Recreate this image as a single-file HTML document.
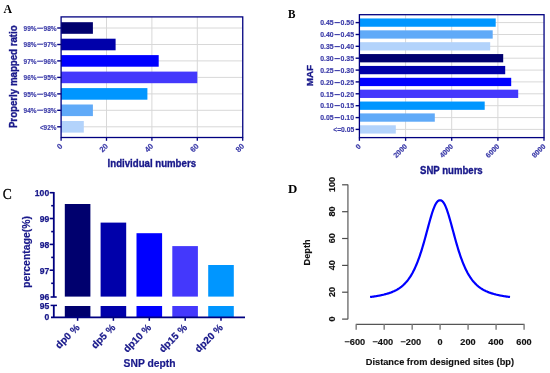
<!DOCTYPE html><html><head><meta charset="utf-8"><style>html,body{margin:0;padding:0;background:#fff;width:550px;height:373px;overflow:hidden}svg{display:block}svg{will-change:transform}text{font-family:"Liberation Sans",sans-serif}.s{font-family:"Liberation Serif",serif;font-weight:bold}</style></head><body>
<svg width="550" height="373" viewBox="0 0 550 373">
<text class="s" transform="translate(3.4,12.9) scale(0.97,1)" font-size="12.2" fill="#000">A</text>
<line x1="106.5" y1="16.9" x2="106.5" y2="137.5" stroke="#d8d8d8" stroke-width="1"/>
<line x1="151.9" y1="16.9" x2="151.9" y2="137.5" stroke="#d8d8d8" stroke-width="1"/>
<line x1="197.3" y1="16.9" x2="197.3" y2="137.5" stroke="#d8d8d8" stroke-width="1"/>
<line x1="61.1" y1="28.0" x2="242.75" y2="28.0" stroke="#d8d8d8" stroke-width="1"/>
<line x1="61.1" y1="44.5" x2="242.75" y2="44.5" stroke="#d8d8d8" stroke-width="1"/>
<line x1="61.1" y1="60.9" x2="242.75" y2="60.9" stroke="#d8d8d8" stroke-width="1"/>
<line x1="61.1" y1="77.4" x2="242.75" y2="77.4" stroke="#d8d8d8" stroke-width="1"/>
<line x1="61.1" y1="93.9" x2="242.75" y2="93.9" stroke="#d8d8d8" stroke-width="1"/>
<line x1="61.1" y1="110.3" x2="242.75" y2="110.3" stroke="#d8d8d8" stroke-width="1"/>
<line x1="61.1" y1="126.8" x2="242.75" y2="126.8" stroke="#d8d8d8" stroke-width="1"/>
<rect x="61.1" y="22.2" width="31.8" height="11.6" fill="#00006e"/>
<line x1="57.2" y1="28.0" x2="61.1" y2="28.0" stroke="#000080" stroke-width="1.4"/>
<text x="23.6" y="31" font-size="7.8" font-weight="bold" fill="#3a3aa8" stroke="#3a3aa8" stroke-width="0.15" textLength="12.9" lengthAdjust="spacingAndGlyphs">99%</text>
<rect x="37.1" y="27.65" width="6.0" height="1.1" fill="#3a3aa8"/>
<text x="56.6" y="31" font-size="7.8" font-weight="bold" fill="#3a3aa8" stroke="#3a3aa8" stroke-width="0.15" text-anchor="end" textLength="13.1" lengthAdjust="spacingAndGlyphs">98%</text>
<rect x="61.1" y="38.7" width="54.5" height="11.6" fill="#0000aa"/>
<line x1="57.2" y1="44.5" x2="61.1" y2="44.5" stroke="#000080" stroke-width="1.4"/>
<text x="23.6" y="47" font-size="7.8" font-weight="bold" fill="#3a3aa8" stroke="#3a3aa8" stroke-width="0.15" textLength="12.9" lengthAdjust="spacingAndGlyphs">98%</text>
<rect x="37.1" y="43.65" width="6.0" height="1.1" fill="#3a3aa8"/>
<text x="56.6" y="47" font-size="7.8" font-weight="bold" fill="#3a3aa8" stroke="#3a3aa8" stroke-width="0.15" text-anchor="end" textLength="13.1" lengthAdjust="spacingAndGlyphs">97%</text>
<rect x="61.1" y="55.1" width="97.6" height="11.6" fill="#0000ff"/>
<line x1="57.2" y1="60.9" x2="61.1" y2="60.9" stroke="#000080" stroke-width="1.4"/>
<text x="23.6" y="64" font-size="7.8" font-weight="bold" fill="#3a3aa8" stroke="#3a3aa8" stroke-width="0.15" textLength="12.9" lengthAdjust="spacingAndGlyphs">97%</text>
<rect x="37.1" y="60.65" width="6.0" height="1.1" fill="#3a3aa8"/>
<text x="56.6" y="64" font-size="7.8" font-weight="bold" fill="#3a3aa8" stroke="#3a3aa8" stroke-width="0.15" text-anchor="end" textLength="13.1" lengthAdjust="spacingAndGlyphs">96%</text>
<rect x="61.1" y="71.6" width="136.2" height="11.6" fill="#4438fc"/>
<line x1="57.2" y1="77.4" x2="61.1" y2="77.4" stroke="#000080" stroke-width="1.4"/>
<text x="23.6" y="80" font-size="7.8" font-weight="bold" fill="#3a3aa8" stroke="#3a3aa8" stroke-width="0.15" textLength="12.9" lengthAdjust="spacingAndGlyphs">96%</text>
<rect x="37.1" y="76.65" width="6.0" height="1.1" fill="#3a3aa8"/>
<text x="56.6" y="80" font-size="7.8" font-weight="bold" fill="#3a3aa8" stroke="#3a3aa8" stroke-width="0.15" text-anchor="end" textLength="13.1" lengthAdjust="spacingAndGlyphs">95%</text>
<rect x="61.1" y="88.1" width="86.3" height="11.6" fill="#0096ff"/>
<line x1="57.2" y1="93.9" x2="61.1" y2="93.9" stroke="#000080" stroke-width="1.4"/>
<text x="23.6" y="97" font-size="7.8" font-weight="bold" fill="#3a3aa8" stroke="#3a3aa8" stroke-width="0.15" textLength="12.9" lengthAdjust="spacingAndGlyphs">95%</text>
<rect x="37.1" y="93.65" width="6.0" height="1.1" fill="#3a3aa8"/>
<text x="56.6" y="97" font-size="7.8" font-weight="bold" fill="#3a3aa8" stroke="#3a3aa8" stroke-width="0.15" text-anchor="end" textLength="13.1" lengthAdjust="spacingAndGlyphs">94%</text>
<rect x="61.1" y="104.5" width="31.8" height="11.6" fill="#60aaf8"/>
<line x1="57.2" y1="110.3" x2="61.1" y2="110.3" stroke="#000080" stroke-width="1.4"/>
<text x="23.6" y="113" font-size="7.8" font-weight="bold" fill="#3a3aa8" stroke="#3a3aa8" stroke-width="0.15" textLength="12.9" lengthAdjust="spacingAndGlyphs">94%</text>
<rect x="37.1" y="109.65" width="6.0" height="1.1" fill="#3a3aa8"/>
<text x="56.6" y="113" font-size="7.8" font-weight="bold" fill="#3a3aa8" stroke="#3a3aa8" stroke-width="0.15" text-anchor="end" textLength="13.1" lengthAdjust="spacingAndGlyphs">93%</text>
<rect x="61.1" y="121.0" width="22.7" height="11.6" fill="#b3d3fb"/>
<line x1="57.2" y1="126.8" x2="61.1" y2="126.8" stroke="#000080" stroke-width="1.4"/>
<text x="56.4" y="129.6" font-size="7.8" font-weight="bold" fill="#3a3aa8" stroke="#3a3aa8" stroke-width="0.15" text-anchor="end" textLength="16.5" lengthAdjust="spacingAndGlyphs">&lt;92%</text>
<rect x="61.1" y="16.9" width="181.65" height="120.60" fill="none" stroke="#000080" stroke-width="1.3"/>
<line x1="61.1" y1="137.5" x2="61.1" y2="140.8" stroke="#000080" stroke-width="1.3"/>
<text transform="translate(63.1,146.7) rotate(-45)" font-size="7.7" font-weight="bold" fill="#3a3aa8" stroke="#3a3aa8" stroke-width="0.15" text-anchor="end">0</text>
<line x1="106.5" y1="137.5" x2="106.5" y2="140.8" stroke="#000080" stroke-width="1.3"/>
<text transform="translate(108.5,146.7) rotate(-45)" font-size="7.7" font-weight="bold" fill="#3a3aa8" stroke="#3a3aa8" stroke-width="0.15" text-anchor="end">20</text>
<line x1="151.9" y1="137.5" x2="151.9" y2="140.8" stroke="#000080" stroke-width="1.3"/>
<text transform="translate(153.9,146.7) rotate(-45)" font-size="7.7" font-weight="bold" fill="#3a3aa8" stroke="#3a3aa8" stroke-width="0.15" text-anchor="end">40</text>
<line x1="197.3" y1="137.5" x2="197.3" y2="140.8" stroke="#000080" stroke-width="1.3"/>
<text transform="translate(199.3,146.7) rotate(-45)" font-size="7.7" font-weight="bold" fill="#3a3aa8" stroke="#3a3aa8" stroke-width="0.15" text-anchor="end">60</text>
<line x1="242.7" y1="137.5" x2="242.7" y2="140.8" stroke="#000080" stroke-width="1.3"/>
<text transform="translate(244.7,146.7) rotate(-45)" font-size="7.7" font-weight="bold" fill="#3a3aa8" stroke="#3a3aa8" stroke-width="0.15" text-anchor="end">80</text>
<text x="107.6" y="167.3" font-size="10.4" stroke="#18188a" stroke-width="0.35" font-weight="bold" fill="#18188a" textLength="88.4" lengthAdjust="spacingAndGlyphs">Individual numbers</text>
<text transform="translate(17.0,128.1) rotate(-90)" font-size="10.4" stroke="#18188a" stroke-width="0.35" font-weight="bold" fill="#18188a" textLength="102.8" lengthAdjust="spacingAndGlyphs">Properly mapped ratio</text>
<text class="s" transform="translate(288.0,17.7) scale(0.86,1)" font-size="13" fill="#000">B</text>
<line x1="405.6" y1="14.7" x2="405.6" y2="137.6" stroke="#d8d8d8" stroke-width="1"/>
<line x1="451.7" y1="14.7" x2="451.7" y2="137.6" stroke="#d8d8d8" stroke-width="1"/>
<line x1="497.9" y1="14.7" x2="497.9" y2="137.6" stroke="#d8d8d8" stroke-width="1"/>
<line x1="359.4" y1="22.6" x2="544.05" y2="22.6" stroke="#d8d8d8" stroke-width="1"/>
<line x1="359.4" y1="34.5" x2="544.05" y2="34.5" stroke="#d8d8d8" stroke-width="1"/>
<line x1="359.4" y1="46.3" x2="544.05" y2="46.3" stroke="#d8d8d8" stroke-width="1"/>
<line x1="359.4" y1="58.2" x2="544.05" y2="58.2" stroke="#d8d8d8" stroke-width="1"/>
<line x1="359.4" y1="70.1" x2="544.05" y2="70.1" stroke="#d8d8d8" stroke-width="1"/>
<line x1="359.4" y1="81.9" x2="544.05" y2="81.9" stroke="#d8d8d8" stroke-width="1"/>
<line x1="359.4" y1="93.8" x2="544.05" y2="93.8" stroke="#d8d8d8" stroke-width="1"/>
<line x1="359.4" y1="105.7" x2="544.05" y2="105.7" stroke="#d8d8d8" stroke-width="1"/>
<line x1="359.4" y1="117.6" x2="544.05" y2="117.6" stroke="#d8d8d8" stroke-width="1"/>
<line x1="359.4" y1="129.4" x2="544.05" y2="129.4" stroke="#d8d8d8" stroke-width="1"/>
<rect x="359.4" y="18.45" width="136.3" height="8.3" fill="#0096ff"/>
<line x1="355.6" y1="22.6" x2="359.4" y2="22.6" stroke="#000080" stroke-width="1.4"/>
<text x="320.2" y="25" font-size="6.7" font-weight="bold" fill="#3a3aa8" stroke="#3a3aa8" stroke-width="0.15" textLength="13.4" lengthAdjust="spacingAndGlyphs">0.45</text>
<rect x="334.5" y="22.05" width="5.4" height="1.1" fill="#3a3aa8"/>
<text x="354.1" y="25" font-size="6.7" font-weight="bold" fill="#3a3aa8" stroke="#3a3aa8" stroke-width="0.15" text-anchor="end" textLength="13.5" lengthAdjust="spacingAndGlyphs">0.50</text>
<rect x="359.4" y="30.32" width="133.3" height="8.3" fill="#60aaf8"/>
<line x1="355.6" y1="34.5" x2="359.4" y2="34.5" stroke="#000080" stroke-width="1.4"/>
<text x="320.2" y="37" font-size="6.7" font-weight="bold" fill="#3a3aa8" stroke="#3a3aa8" stroke-width="0.15" textLength="13.4" lengthAdjust="spacingAndGlyphs">0.40</text>
<rect x="334.5" y="34.05" width="5.4" height="1.1" fill="#3a3aa8"/>
<text x="354.1" y="37" font-size="6.7" font-weight="bold" fill="#3a3aa8" stroke="#3a3aa8" stroke-width="0.15" text-anchor="end" textLength="13.5" lengthAdjust="spacingAndGlyphs">0.45</text>
<rect x="359.4" y="42.19" width="130.8" height="8.3" fill="#b3d3fb"/>
<line x1="355.6" y1="46.3" x2="359.4" y2="46.3" stroke="#000080" stroke-width="1.4"/>
<text x="320.2" y="49" font-size="6.7" font-weight="bold" fill="#3a3aa8" stroke="#3a3aa8" stroke-width="0.15" textLength="13.4" lengthAdjust="spacingAndGlyphs">0.35</text>
<rect x="334.5" y="46.05" width="5.4" height="1.1" fill="#3a3aa8"/>
<text x="354.1" y="49" font-size="6.7" font-weight="bold" fill="#3a3aa8" stroke="#3a3aa8" stroke-width="0.15" text-anchor="end" textLength="13.5" lengthAdjust="spacingAndGlyphs">0.40</text>
<rect x="359.4" y="54.06" width="143.8" height="8.3" fill="#00006e"/>
<line x1="355.6" y1="58.2" x2="359.4" y2="58.2" stroke="#000080" stroke-width="1.4"/>
<text x="320.2" y="61" font-size="6.7" font-weight="bold" fill="#3a3aa8" stroke="#3a3aa8" stroke-width="0.15" textLength="13.4" lengthAdjust="spacingAndGlyphs">0.30</text>
<rect x="334.5" y="58.05" width="5.4" height="1.1" fill="#3a3aa8"/>
<text x="354.1" y="61" font-size="6.7" font-weight="bold" fill="#3a3aa8" stroke="#3a3aa8" stroke-width="0.15" text-anchor="end" textLength="13.5" lengthAdjust="spacingAndGlyphs">0.35</text>
<rect x="359.4" y="65.93" width="145.8" height="8.3" fill="#0000aa"/>
<line x1="355.6" y1="70.1" x2="359.4" y2="70.1" stroke="#000080" stroke-width="1.4"/>
<text x="320.2" y="73" font-size="6.7" font-weight="bold" fill="#3a3aa8" stroke="#3a3aa8" stroke-width="0.15" textLength="13.4" lengthAdjust="spacingAndGlyphs">0.25</text>
<rect x="334.5" y="70.05" width="5.4" height="1.1" fill="#3a3aa8"/>
<text x="354.1" y="73" font-size="6.7" font-weight="bold" fill="#3a3aa8" stroke="#3a3aa8" stroke-width="0.15" text-anchor="end" textLength="13.5" lengthAdjust="spacingAndGlyphs">0.30</text>
<rect x="359.4" y="77.80" width="151.8" height="8.3" fill="#0000ff"/>
<line x1="355.6" y1="81.9" x2="359.4" y2="81.9" stroke="#000080" stroke-width="1.4"/>
<text x="320.2" y="85" font-size="6.7" font-weight="bold" fill="#3a3aa8" stroke="#3a3aa8" stroke-width="0.15" textLength="13.4" lengthAdjust="spacingAndGlyphs">0.20</text>
<rect x="334.5" y="82.05" width="5.4" height="1.1" fill="#3a3aa8"/>
<text x="354.1" y="85" font-size="6.7" font-weight="bold" fill="#3a3aa8" stroke="#3a3aa8" stroke-width="0.15" text-anchor="end" textLength="13.5" lengthAdjust="spacingAndGlyphs">0.25</text>
<rect x="359.4" y="89.67" width="158.8" height="8.3" fill="#4438fc"/>
<line x1="355.6" y1="93.8" x2="359.4" y2="93.8" stroke="#000080" stroke-width="1.4"/>
<text x="320.2" y="97" font-size="6.7" font-weight="bold" fill="#3a3aa8" stroke="#3a3aa8" stroke-width="0.15" textLength="13.4" lengthAdjust="spacingAndGlyphs">0.15</text>
<rect x="334.5" y="94.05" width="5.4" height="1.1" fill="#3a3aa8"/>
<text x="354.1" y="97" font-size="6.7" font-weight="bold" fill="#3a3aa8" stroke="#3a3aa8" stroke-width="0.15" text-anchor="end" textLength="13.5" lengthAdjust="spacingAndGlyphs">0.20</text>
<rect x="359.4" y="101.54" width="125.3" height="8.3" fill="#0096ff"/>
<line x1="355.6" y1="105.7" x2="359.4" y2="105.7" stroke="#000080" stroke-width="1.4"/>
<text x="320.2" y="108" font-size="6.7" font-weight="bold" fill="#3a3aa8" stroke="#3a3aa8" stroke-width="0.15" textLength="13.4" lengthAdjust="spacingAndGlyphs">0.10</text>
<rect x="334.5" y="105.05" width="5.4" height="1.1" fill="#3a3aa8"/>
<text x="354.1" y="108" font-size="6.7" font-weight="bold" fill="#3a3aa8" stroke="#3a3aa8" stroke-width="0.15" text-anchor="end" textLength="13.5" lengthAdjust="spacingAndGlyphs">0.15</text>
<rect x="359.4" y="113.41" width="75.4" height="8.3" fill="#60aaf8"/>
<line x1="355.6" y1="117.6" x2="359.4" y2="117.6" stroke="#000080" stroke-width="1.4"/>
<text x="320.2" y="120" font-size="6.7" font-weight="bold" fill="#3a3aa8" stroke="#3a3aa8" stroke-width="0.15" textLength="13.4" lengthAdjust="spacingAndGlyphs">0.05</text>
<rect x="334.5" y="117.05" width="5.4" height="1.1" fill="#3a3aa8"/>
<text x="354.1" y="120" font-size="6.7" font-weight="bold" fill="#3a3aa8" stroke="#3a3aa8" stroke-width="0.15" text-anchor="end" textLength="13.5" lengthAdjust="spacingAndGlyphs">0.10</text>
<rect x="359.4" y="125.28" width="36.4" height="8.3" fill="#b3d3fb"/>
<line x1="355.6" y1="129.4" x2="359.4" y2="129.4" stroke="#000080" stroke-width="1.4"/>
<text x="354.2" y="132.2" font-size="6.7" font-weight="bold" fill="#3a3aa8" stroke="#3a3aa8" stroke-width="0.15" text-anchor="end" textLength="21" lengthAdjust="spacingAndGlyphs">&lt;=0.05</text>
<rect x="359.4" y="14.7" width="184.65" height="122.90" fill="none" stroke="#000080" stroke-width="1.3"/>
<line x1="359.4" y1="137.6" x2="359.4" y2="140.8" stroke="#000080" stroke-width="1.3"/>
<text transform="translate(361.4,146.9) rotate(-45)" font-size="7.2" font-weight="bold" fill="#3a3aa8" stroke="#3a3aa8" stroke-width="0.15" text-anchor="end">0</text>
<line x1="405.6" y1="137.6" x2="405.6" y2="140.8" stroke="#000080" stroke-width="1.3"/>
<text transform="translate(407.6,146.9) rotate(-45)" font-size="7.2" font-weight="bold" fill="#3a3aa8" stroke="#3a3aa8" stroke-width="0.15" text-anchor="end">2000</text>
<line x1="451.7" y1="137.6" x2="451.7" y2="140.8" stroke="#000080" stroke-width="1.3"/>
<text transform="translate(453.7,146.9) rotate(-45)" font-size="7.2" font-weight="bold" fill="#3a3aa8" stroke="#3a3aa8" stroke-width="0.15" text-anchor="end">4000</text>
<line x1="497.9" y1="137.6" x2="497.9" y2="140.8" stroke="#000080" stroke-width="1.3"/>
<text transform="translate(499.9,146.9) rotate(-45)" font-size="7.2" font-weight="bold" fill="#3a3aa8" stroke="#3a3aa8" stroke-width="0.15" text-anchor="end">6000</text>
<line x1="544.0" y1="137.6" x2="544.0" y2="140.8" stroke="#000080" stroke-width="1.3"/>
<text transform="translate(546.0,146.9) rotate(-45)" font-size="7.2" font-weight="bold" fill="#3a3aa8" stroke="#3a3aa8" stroke-width="0.15" text-anchor="end">8000</text>
<text x="420" y="173.6" font-size="10.4" stroke="#18188a" stroke-width="0.35" font-weight="bold" fill="#18188a" textLength="62.7" lengthAdjust="spacingAndGlyphs">SNP numbers</text>
<text transform="translate(313.0,86.2) rotate(-90)" font-size="9.8" stroke="#18188a" stroke-width="0.35" font-weight="bold" fill="#18188a" textLength="21.3" lengthAdjust="spacingAndGlyphs">MAF</text>
<text transform="translate(2.8,198.5) scale(0.95,1)" font-size="14.2" fill="#000" stroke="#000" stroke-width="0.3" style="font-family:&quot;Liberation Serif&quot;,serif">C</text>
<line x1="53.8" y1="192.0" x2="53.8" y2="297.0" stroke="#000080" stroke-width="1.8"/>
<line x1="53.8" y1="305.4" x2="53.8" y2="317.4" stroke="#000080" stroke-width="1.8"/>
<line x1="50.6" y1="297.0" x2="56.7" y2="297.0" stroke="#000080" stroke-width="1.6"/>
<line x1="50.6" y1="305.4" x2="57" y2="305.4" stroke="#000080" stroke-width="1.5"/>
<line x1="49.7" y1="192.7" x2="53.8" y2="192.7" stroke="#000080" stroke-width="1.6"/>
<line x1="49.7" y1="218.5" x2="53.8" y2="218.5" stroke="#000080" stroke-width="1.6"/>
<line x1="49.7" y1="244.4" x2="53.8" y2="244.4" stroke="#000080" stroke-width="1.6"/>
<line x1="49.7" y1="270.2" x2="53.8" y2="270.2" stroke="#000080" stroke-width="1.6"/>
<line x1="51.2" y1="205.7" x2="53.8" y2="205.7" stroke="#000080" stroke-width="1.6"/>
<line x1="51.2" y1="231.6" x2="53.8" y2="231.6" stroke="#000080" stroke-width="1.6"/>
<line x1="51.2" y1="257.4" x2="53.8" y2="257.4" stroke="#000080" stroke-width="1.6"/>
<line x1="51.2" y1="283.3" x2="53.8" y2="283.3" stroke="#000080" stroke-width="1.6"/>
<text x="49.2" y="196.1" font-size="8.6" font-weight="bold" fill="#18188a" stroke="#18188a" stroke-width="0.25" text-anchor="end">100</text>
<text x="49.2" y="221.9" font-size="8.6" font-weight="bold" fill="#18188a" stroke="#18188a" stroke-width="0.25" text-anchor="end">99</text>
<text x="49.2" y="247.8" font-size="8.6" font-weight="bold" fill="#18188a" stroke="#18188a" stroke-width="0.25" text-anchor="end">98</text>
<text x="49.2" y="273.6" font-size="8.6" font-weight="bold" fill="#18188a" stroke="#18188a" stroke-width="0.25" text-anchor="end">97</text>
<text x="49.2" y="299.5" font-size="8.6" font-weight="bold" fill="#18188a" stroke="#18188a" stroke-width="0.25" text-anchor="end">96</text>
<text x="49.2" y="309.2" font-size="8.6" font-weight="bold" fill="#18188a" stroke="#18188a" stroke-width="0.25" text-anchor="end">95</text>
<text x="49.2" y="320.4" font-size="8.6" font-weight="bold" fill="#18188a" stroke="#18188a" stroke-width="0.25" text-anchor="end">0</text>
<rect x="64.8" y="204.0" width="25.6" height="92.6" fill="#00006e"/>
<rect x="64.8" y="306" width="25.6" height="11.4" fill="#00006e"/>
<line x1="77.6" y1="317.4" x2="77.6" y2="320.8" stroke="#000080" stroke-width="1.5"/>
<text transform="translate(80.2,328.3) rotate(-45)" font-size="10" font-weight="bold" fill="#18188a" stroke="#18188a" stroke-width="0.2" text-anchor="end">dp0 %</text>
<rect x="100.6" y="222.6" width="25.6" height="74.0" fill="#0000aa"/>
<rect x="100.6" y="306" width="25.6" height="11.4" fill="#0000aa"/>
<line x1="113.4" y1="317.4" x2="113.4" y2="320.8" stroke="#000080" stroke-width="1.5"/>
<text transform="translate(116.0,328.3) rotate(-45)" font-size="10" font-weight="bold" fill="#18188a" stroke="#18188a" stroke-width="0.2" text-anchor="end">dp5 %</text>
<rect x="136.5" y="233.2" width="25.6" height="63.4" fill="#0000ff"/>
<rect x="136.5" y="306" width="25.6" height="11.4" fill="#0000ff"/>
<line x1="149.3" y1="317.4" x2="149.3" y2="320.8" stroke="#000080" stroke-width="1.5"/>
<text transform="translate(151.9,328.3) rotate(-45)" font-size="10" font-weight="bold" fill="#18188a" stroke="#18188a" stroke-width="0.2" text-anchor="end">dp10 %</text>
<rect x="172.3" y="246.1" width="25.6" height="50.5" fill="#4438fc"/>
<rect x="172.3" y="306" width="25.6" height="11.4" fill="#4438fc"/>
<line x1="185.2" y1="317.4" x2="185.2" y2="320.8" stroke="#000080" stroke-width="1.5"/>
<text transform="translate(187.8,328.3) rotate(-45)" font-size="10" font-weight="bold" fill="#18188a" stroke="#18188a" stroke-width="0.2" text-anchor="end">dp15 %</text>
<rect x="208.2" y="265.0" width="25.6" height="31.6" fill="#0096ff"/>
<rect x="208.2" y="306" width="25.6" height="11.4" fill="#0096ff"/>
<line x1="221.0" y1="317.4" x2="221.0" y2="320.8" stroke="#000080" stroke-width="1.5"/>
<text transform="translate(223.6,328.3) rotate(-45)" font-size="10" font-weight="bold" fill="#18188a" stroke="#18188a" stroke-width="0.2" text-anchor="end">dp20 %</text>
<line x1="51" y1="317.4" x2="245" y2="317.4" stroke="#000080" stroke-width="1.6"/>
<text x="123.6" y="366.8" font-size="11" font-weight="bold" fill="#18188a" stroke="#18188a" stroke-width="0.2" textLength="52" lengthAdjust="spacingAndGlyphs">SNP depth</text>
<text transform="translate(30,288) rotate(-90)" font-size="11" font-weight="bold" fill="#18188a" stroke="#18188a" stroke-width="0.2" textLength="72" lengthAdjust="spacingAndGlyphs">percentage(%)</text>
<text class="s" transform="translate(288.1,192.7) scale(1.0,1)" font-size="12.9" fill="#000">D</text>
<line x1="347.9" y1="184.4" x2="347.9" y2="319.3" stroke="#8a8a8a" stroke-width="1.7"/>
<line x1="342.1" y1="319.1" x2="347.9" y2="319.1" stroke="#4a4a4a" stroke-width="1.2"/>
<text transform="translate(334.6,318.9) rotate(-90)" font-size="9" font-weight="bold" fill="#111" stroke="#111" stroke-width="0.15" text-anchor="middle">0</text>
<line x1="342.1" y1="292.2" x2="347.9" y2="292.2" stroke="#4a4a4a" stroke-width="1.2"/>
<text transform="translate(334.6,292.0) rotate(-90)" font-size="9" font-weight="bold" fill="#111" stroke="#111" stroke-width="0.15" text-anchor="middle">20</text>
<line x1="342.1" y1="265.4" x2="347.9" y2="265.4" stroke="#4a4a4a" stroke-width="1.2"/>
<text transform="translate(334.6,265.2) rotate(-90)" font-size="9" font-weight="bold" fill="#111" stroke="#111" stroke-width="0.15" text-anchor="middle">40</text>
<line x1="342.1" y1="238.5" x2="347.9" y2="238.5" stroke="#4a4a4a" stroke-width="1.2"/>
<text transform="translate(334.6,238.3) rotate(-90)" font-size="9" font-weight="bold" fill="#111" stroke="#111" stroke-width="0.15" text-anchor="middle">60</text>
<line x1="342.1" y1="211.7" x2="347.9" y2="211.7" stroke="#4a4a4a" stroke-width="1.2"/>
<text transform="translate(334.6,211.5) rotate(-90)" font-size="9" font-weight="bold" fill="#111" stroke="#111" stroke-width="0.15" text-anchor="middle">80</text>
<line x1="342.1" y1="184.8" x2="347.9" y2="184.8" stroke="#4a4a4a" stroke-width="1.2"/>
<text transform="translate(334.6,184.6) rotate(-90)" font-size="9" font-weight="bold" fill="#111" stroke="#111" stroke-width="0.15" text-anchor="middle">100</text>
<line x1="355.8" y1="324.45" x2="524.5" y2="324.45" stroke="#555" stroke-width="1.2"/>
<line x1="356.2" y1="324.45" x2="356.2" y2="329.8" stroke="#8a8a8a" stroke-width="1.6"/>
<text x="344.4" y="344.8" font-size="9.1" font-weight="bold" fill="#111" stroke="#111" stroke-width="0.15" textLength="20.8" lengthAdjust="spacingAndGlyphs">−600</text>
<line x1="384.2" y1="324.45" x2="384.2" y2="329.8" stroke="#8a8a8a" stroke-width="1.6"/>
<text x="372.4" y="344.8" font-size="9.1" font-weight="bold" fill="#111" stroke="#111" stroke-width="0.15" textLength="20.8" lengthAdjust="spacingAndGlyphs">−400</text>
<line x1="412.2" y1="324.45" x2="412.2" y2="329.8" stroke="#8a8a8a" stroke-width="1.6"/>
<text x="400.4" y="344.8" font-size="9.1" font-weight="bold" fill="#111" stroke="#111" stroke-width="0.15" textLength="20.8" lengthAdjust="spacingAndGlyphs">−200</text>
<line x1="440.1" y1="324.45" x2="440.1" y2="329.8" stroke="#8a8a8a" stroke-width="1.6"/>
<text x="440.1" y="344.8" font-size="9.1" font-weight="bold" fill="#111" stroke="#111" stroke-width="0.15" text-anchor="middle">0</text>
<line x1="468.1" y1="324.45" x2="468.1" y2="329.8" stroke="#8a8a8a" stroke-width="1.6"/>
<text x="460.3" y="344.8" font-size="9.1" font-weight="bold" fill="#111" stroke="#111" stroke-width="0.15" textLength="15.3" lengthAdjust="spacingAndGlyphs">200</text>
<line x1="496.1" y1="324.45" x2="496.1" y2="329.8" stroke="#8a8a8a" stroke-width="1.6"/>
<text x="488.3" y="344.8" font-size="9.1" font-weight="bold" fill="#111" stroke="#111" stroke-width="0.15" textLength="15.3" lengthAdjust="spacingAndGlyphs">400</text>
<line x1="524.1" y1="324.45" x2="524.1" y2="329.8" stroke="#8a8a8a" stroke-width="1.6"/>
<text x="516.3" y="344.8" font-size="9.1" font-weight="bold" fill="#111" stroke="#111" stroke-width="0.15" textLength="15.3" lengthAdjust="spacingAndGlyphs">600</text>
<text x="365.8" y="364.9" font-size="9.5" font-weight="bold" fill="#111" stroke="#111" stroke-width="0.15" textLength="148.2" lengthAdjust="spacingAndGlyphs">Distance from designed sites (bp)</text>
<text transform="translate(310.3,265.4) rotate(-90)" font-size="9.1" font-weight="bold" fill="#111" stroke="#111" stroke-width="0.15" textLength="26" lengthAdjust="spacingAndGlyphs">Depth</text>
<polyline points="370.08,297.01 370.77,296.92 371.47,296.83 372.17,296.74 372.87,296.64 373.57,296.54 374.27,296.44 374.97,296.33 375.67,296.22 376.37,296.11 377.07,295.99 377.77,295.87 378.47,295.74 379.17,295.61 379.87,295.47 380.57,295.33 381.27,295.19 381.97,295.03 382.67,294.88 383.37,294.71 384.07,294.55 384.77,294.37 385.47,294.19 386.17,294.00 386.87,293.80 387.57,293.59 388.27,293.37 388.97,293.15 389.67,292.91 390.37,292.67 391.07,292.41 391.77,292.14 392.47,291.86 393.17,291.56 393.87,291.25 394.57,290.93 395.27,290.58 395.97,290.23 396.67,289.85 397.37,289.45 398.06,289.03 398.76,288.59 399.46,288.13 400.16,287.64 400.86,287.12 401.56,286.58 402.26,286.00 402.96,285.40 403.66,284.76 404.36,284.08 405.06,283.37 405.76,282.62 406.46,281.82 407.16,280.98 407.86,280.10 408.56,279.17 409.26,278.18 409.96,277.15 410.66,276.05 411.36,274.90 412.06,273.69 412.76,272.42 413.46,271.08 414.16,269.67 414.86,268.19 415.56,266.65 416.26,265.03 416.96,263.33 417.66,261.56 418.36,259.71 419.06,257.79 419.76,255.78 420.46,253.70 421.16,251.55 421.86,249.32 422.56,247.02 423.26,244.65 423.96,242.23 424.66,239.75 425.36,237.22 426.06,234.66 426.75,232.07 427.45,229.46 428.15,226.86 428.85,224.28 429.55,221.73 430.25,219.24 430.95,216.82 431.65,214.50 432.35,212.29 433.05,210.23 433.75,208.32 434.45,206.59 435.15,205.05 435.85,203.72 436.55,202.60 437.25,201.71 437.95,201.03 438.65,200.58 439.35,200.33 440.05,200.26 440.75,200.33 441.45,200.58 442.15,201.03 442.85,201.71 443.55,202.60 444.25,203.72 444.95,205.05 445.65,206.59 446.35,208.32 447.05,210.23 447.75,212.29 448.45,214.50 449.15,216.82 449.85,219.24 450.55,221.73 451.25,224.28 451.95,226.86 452.65,229.46 453.35,232.07 454.05,234.66 454.74,237.22 455.44,239.75 456.14,242.23 456.84,244.65 457.54,247.02 458.24,249.32 458.94,251.55 459.64,253.70 460.34,255.78 461.04,257.79 461.74,259.71 462.44,261.56 463.14,263.33 463.84,265.03 464.54,266.65 465.24,268.19 465.94,269.67 466.64,271.08 467.34,272.42 468.04,273.69 468.74,274.90 469.44,276.05 470.14,277.15 470.84,278.18 471.54,279.17 472.24,280.10 472.94,280.98 473.64,281.82 474.34,282.62 475.04,283.37 475.74,284.08 476.44,284.76 477.14,285.40 477.84,286.00 478.54,286.58 479.24,287.12 479.94,287.64 480.64,288.13 481.34,288.59 482.04,289.03 482.73,289.45 483.43,289.85 484.13,290.23 484.83,290.58 485.53,290.93 486.23,291.25 486.93,291.56 487.63,291.86 488.33,292.14 489.03,292.41 489.73,292.67 490.43,292.91 491.13,293.15 491.83,293.37 492.53,293.59 493.23,293.80 493.93,294.00 494.63,294.19 495.33,294.37 496.03,294.55 496.73,294.71 497.43,294.88 498.13,295.03 498.83,295.19 499.53,295.33 500.23,295.47 500.93,295.61 501.63,295.74 502.33,295.87 503.03,295.99 503.73,296.11 504.43,296.22 505.13,296.33 505.83,296.44 506.53,296.54 507.23,296.64 507.93,296.74 508.63,296.83 509.33,296.92 510.02,297.01" fill="none" stroke="#0000ff" stroke-width="2.2" stroke-linejoin="round"/>
</svg></body></html>
